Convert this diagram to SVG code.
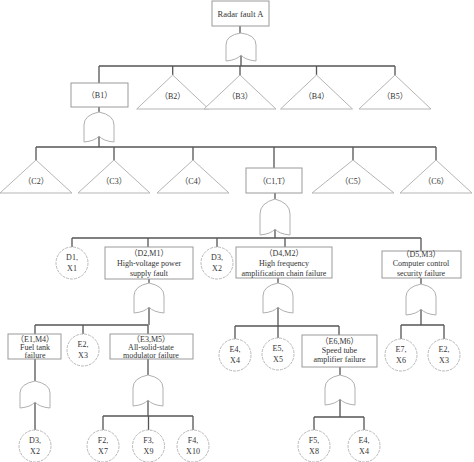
<svg xmlns="http://www.w3.org/2000/svg" width="474" height="462" viewBox="0 0 474 462">
<style>
text{font-family:"Liberation Serif","Noto Sans CJK SC",serif;font-size:8px;fill:#333;text-anchor:middle}
.big{font-size:8.5px}
.box{fill:#fff;stroke:#9a9a9a;stroke-width:1}
.tri{fill:#fff;stroke:#b5b5b5;stroke-width:1}
.gate{fill:#fff;stroke:#b0b0b0;stroke-width:1}
.ev{fill:#fff;stroke:#b8b8b8;stroke-width:1;stroke-dasharray:3 1}
.ln{fill:none;stroke:#555;stroke-width:1.3}
</style>
<rect width="474" height="462" fill="#fff"/>
<g id="connectors">
<path class="ln" d="M240,26V33 M241,55V66 M99,66H395 M99,66V83 M172.7,66V75 M240,66V75 M316.5,66V75 M395,66V75"/>
<path class="ln" d="M99,107V112 M99,136V147 M36,147H436 M36,147V160 M114,147V160 M193,147V160 M274,147V168 M353,147V160 M436,147V160"/>
<path class="ln" d="M275,193V199 M275,229V238 M72,238H421 M72,238V247 M148,238V247 M217,238V247 M285,238V247 M421,238V251"/>
<path class="ln" d="M149,279V283 M149,307V325 M35,325H148 M35,325V334 M83,325V334 M148,325V334"/>
<path class="ln" d="M35,359V381 M35,402V430 M148,359V375 M148,400V416 M103,416H193 M103,416V430 M148.5,416V430 M193,416V430"/>
<path class="ln" d="M278,278V283 M278,307V326 M235,326H339 M235,326V339 M278,326V338 M339,326V335"/>
<path class="ln" d="M340,367V375 M340,399V417 M314,417H364 M314,417V430 M364,417V430"/>
<path class="ln" d="M421,278V284 M421,309V325 M401,325H444 M401,325V339 M444,325V339"/>
</g>
<g id="A"><rect class="box" x="212" y="1" width="57" height="25"/><text class="big" x="240.5" y="16.5">Radar fault  A</text></g>
<g id="gA"><path class="gate" d="M226,61 V45 Q226,35 241,33 Q256,35 256,45 V61 Q245,60 241,55 Q237,60 226,61Z"/></g>
<g id="B1"><rect class="box" x="71" y="83" width="57" height="24"/><text x="99.5" y="98">（B1）</text></g>
<g id="B2"><path class="tri" d="M172.7,75 L208.7,109 L136.7,109Z"/><text x="172.7" y="99">（B2）</text></g>
<g id="B3"><path class="tri" d="M240,75 L276,109 L204,109Z"/><text x="240" y="99">（B3）</text></g>
<g id="B4"><path class="tri" d="M316.5,75 L352.5,109 L280.5,109Z"/><text x="316.5" y="99">（B4）</text></g>
<g id="B5"><path class="tri" d="M395,75 L431,109 L359,109Z"/><text x="395" y="99">（B5）</text></g>
<g id="gB1"><path class="gate" d="M84,142 V125 Q84,115 99,112 Q114,115 114,125 V142 Q103,141 99,136 Q95,141 84,142Z"/></g>
<g id="C2"><path class="tri" d="M36,160 L72,193 L0,193Z"/><text x="36" y="184">（C2）</text></g>
<g id="C3"><path class="tri" d="M114,160 L150,193 L78,193Z"/><text x="114" y="184">（C3）</text></g>
<g id="C4"><path class="tri" d="M193,160 L229,193 L157,193Z"/><text x="193" y="184">（C4）</text></g>
<g id="C1T"><rect class="box" x="246" y="168" width="56" height="25"/><text x="274" y="183.5">（C1,T）</text></g>
<g id="C5"><path class="tri" d="M353,160 L394,193 L312,193Z"/><text x="353" y="184">（C5）</text></g>
<g id="C6"><path class="tri" d="M436,160 L472,193 L400,193Z"/><text x="436" y="184">（C6）</text></g>
<g id="gC1T"><path class="gate" d="M260,235 V214 Q260,203 275,199 Q290,203 290,214 V235 Q279,234 275,229 Q271,234 260,235Z"/></g>
<g id="D1"><circle class="ev" cx="72" cy="263" r="16"/><text x="72" y="260">D1,</text><text x="72" y="271">X1</text></g>
<g id="D2"><rect class="box" x="105" y="247" width="88" height="32"/><text x="149" y="256">（D2,M1）</text><text x="149" y="266">High-voltage power</text><text x="149" y="276">supply fault</text></g>
<g id="D3"><circle class="ev" cx="217" cy="263" r="16"/><text x="217" y="260">D3,</text><text x="217" y="271">X2</text></g>
<g id="D4"><rect class="box" x="236" y="247" width="96" height="31"/><text x="284" y="256">（D4,M2）</text><text x="284" y="266">High frequency</text><text x="284" y="276">amplification chain failure</text></g>
<g id="D5"><rect class="box" x="382" y="251" width="79" height="27"/><text x="421" y="257">（D5,M3）</text><text x="421" y="266">Computer control</text><text x="421" y="275.5">security failure</text></g>
<g id="gD2"><path class="gate" d="M134,313 V296 Q134,286 149,283 Q164,286 164,296 V313 Q153,312 149,307 Q145,312 134,313Z"/></g>
<g id="gD4"><path class="gate" d="M263,313 V296 Q263,286 278,283 Q293,286 293,296 V313 Q282,312 278,307 Q274,312 263,313Z"/></g>
<g id="gD5"><path class="gate" d="M406,315 V297 Q406,287 421,284 Q436,287 436,297 V315 Q425,314 421,309 Q417,314 406,315Z"/></g>
<g id="E1"><rect class="box" x="8" y="334" width="53" height="25"/><text x="35" y="342">（E1,M4）</text><text x="35" y="350">Fuel tank</text><text x="35" y="358">failure</text></g>
<g id="E2a"><circle class="ev" cx="83" cy="350" r="16"/><text x="83" y="347">E2,</text><text x="83" y="358">X3</text></g>
<g id="E3"><rect class="box" x="110" y="334" width="83" height="25"/><text x="151" y="342">（E3,M5）</text><text x="151" y="350">All-solid-state</text><text x="151" y="358">modulator failure</text></g>
<g id="gE1"><path class="gate" d="M20,408 V393 Q20,384 35,381 Q50,384 50,393 V408 Q39,407 35,402 Q31,407 20,408Z"/></g>
<g id="gE3"><path class="gate" d="M133,406 V388 Q133,378 148,375 Q163,378 163,388 V406 Q152,405 148,400 Q144,405 133,406Z"/></g>
<g id="D3b"><circle class="ev" cx="35" cy="446" r="16"/><text x="35" y="443">D3,</text><text x="35" y="454">X2</text></g>
<g id="F2"><circle class="ev" cx="103" cy="446" r="16"/><text x="103" y="443">F2,</text><text x="103" y="454">X7</text></g>
<g id="F3"><circle class="ev" cx="148.5" cy="446" r="16"/><text x="148.5" y="443">F3,</text><text x="148.5" y="454">X9</text></g>
<g id="F4"><circle class="ev" cx="193" cy="446" r="16"/><text x="193" y="443">F4,</text><text x="193" y="454">X10</text></g>
<g id="E4a"><circle class="ev" cx="235" cy="355" r="16"/><text x="235" y="352">E4,</text><text x="235" y="363">X4</text></g>
<g id="E5"><circle class="ev" cx="278" cy="354" r="16"/><text x="278" y="351">E5,</text><text x="278" y="362">X5</text></g>
<g id="E6"><rect class="box" x="302" y="335" width="75" height="32"/><text x="339.5" y="344">（E6,M6）</text><text x="339.5" y="353">Speed tube</text><text x="339.5" y="362">amplifier failure</text></g>
<g id="gE6"><path class="gate" d="M325,405 V388 Q325,378 340,375 Q355,378 355,388 V405 Q344,404 340,399 Q336,404 325,405Z"/></g>
<g id="F5"><circle class="ev" cx="314" cy="446" r="16"/><text x="314" y="443">F5,</text><text x="314" y="454">X8</text></g>
<g id="E4b"><circle class="ev" cx="364" cy="446" r="16"/><text x="364" y="443">E4,</text><text x="364" y="454">X4</text></g>
<g id="E7"><circle class="ev" cx="401" cy="355" r="16"/><text x="401" y="352">E7,</text><text x="401" y="363">X6</text></g>
<g id="E2b"><circle class="ev" cx="444" cy="355" r="16"/><text x="444" y="352">E2,</text><text x="444" y="363">X3</text></g>
</svg>
